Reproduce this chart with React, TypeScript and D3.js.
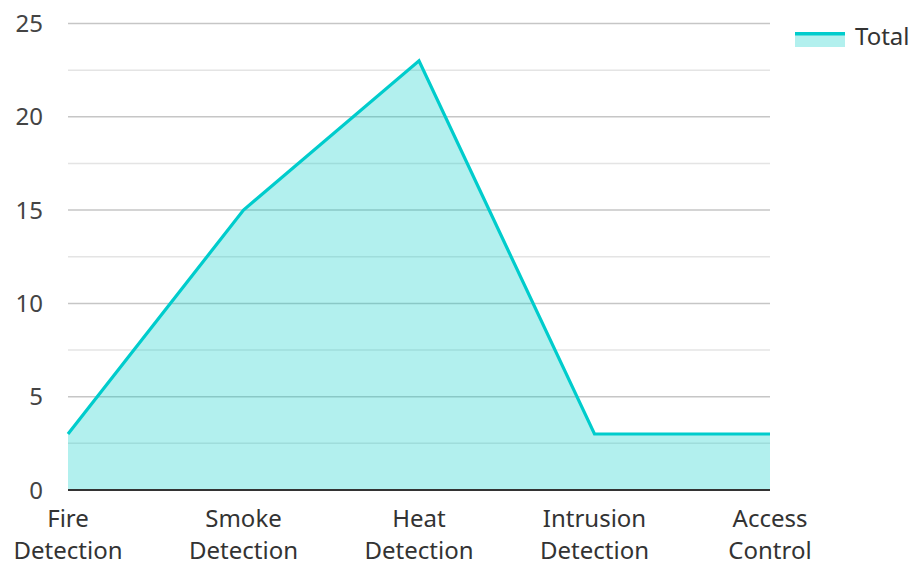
import React from "react";
import * as d3 from "d3";

const categories: string[][] = [
  ["Fire", "Detection"],
  ["Smoke", "Detection"],
  ["Heat", "Detection"],
  ["Intrusion", "Detection"],
  ["Access", "Control"],
];
const totals: number[] = [3, 15, 23, 3, 3];
const yTicks: number[] = [0, 5, 10, 15, 20, 25];
const minorTicks: number[] = [2.5, 7.5, 12.5, 17.5, 22.5];
const seriesName = "Total";

const W = 911;
const H = 562;
const font = "'Noto Sans', 'Open Sans', sans-serif";
const lineColor = "#00CCCC";
const fillColor = "rgb(0,204,200)";

export default function App() {
  const x = d3.scalePoint<number>().domain(d3.range(categories.length)).range([68, 770]);
  const y = d3.scaleLinear().domain([0, 25]).range([490, 23.5]);
  const line = d3.line<number>().x((_, i) => x(i)!).y((d) => y(d));
  const area = d3.area<number>().x((_, i) => x(i)!).y0(y(0)).y1((d) => y(d));
  return (
    <svg width={W} height={H} style={{ position: "absolute", left: 0, top: 0 }} fontFamily={font}>
      <rect width={W} height={H} fill="#fff" />
      {minorTicks.map((t) => (
        <line key={"m" + t} x1={68} x2={770} y1={y(t)} y2={y(t)} stroke="#e4e4e4" strokeWidth={1.5} />
      ))}
      {yTicks.map((t) => (
        <line key={"g" + t} x1={68} x2={770} y1={y(t)} y2={y(t)} stroke="#c6c6c6" strokeWidth={1.5} />
      ))}
      <path d={area(totals)!} fill={fillColor} fillOpacity={0.3} />
      <path d={line(totals)!} fill="none" stroke={lineColor} strokeWidth={3.2} strokeLinejoin="miter" />
      <line x1={68} x2={770} y1={y(0)} y2={y(0)} stroke="#333" strokeWidth={2} />
      {yTicks.map((t) => (
        <text key={"t" + t} x={43} y={y(t)} dy="0.36em" textAnchor="end" fontSize={24} fill="#444">
          {t}
        </text>
      ))}
      {categories.map((c, i) => (
        <text key={"c" + i} x={x(i)} textAnchor="middle" fontSize={24} fill="#333">
          <tspan x={x(i)} y={527}>{c[0]}</tspan>
          <tspan x={x(i)} y={559}>{c[1]}</tspan>
        </text>
      ))}
      <rect x={795} y={33} width={50} height={14} fill={fillColor} fillOpacity={0.3} />
      <rect x={795} y={32} width={50} height={3.5} fill={lineColor} />
      <text x={855} y={36} dy="0.36em" fontSize={24} fill="#333">{seriesName}</text>
    </svg>
  );
}
